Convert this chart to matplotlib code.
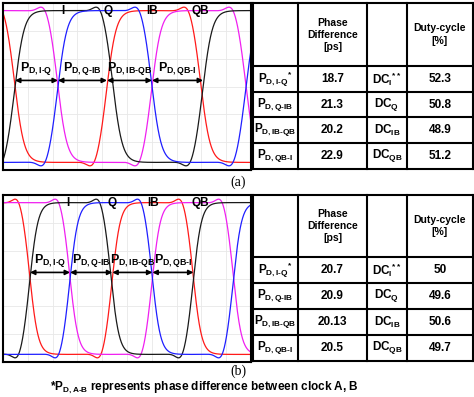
import numpy as np
import matplotlib
matplotlib.use("Agg")
import matplotlib.pyplot as plt

plt.rcParams['font.family'] = ['Liberation Sans', 'DejaVu Sans']
plt.rcParams['mathtext.fontset'] = 'custom'
plt.rcParams['mathtext.rm'] = 'Liberation Sans:bold'
plt.rcParams['mathtext.it'] = 'Liberation Sans:bold'
plt.rcParams['mathtext.bf'] = 'Liberation Sans:bold'

# edge times (ps) of each clock (first edge of I/Q rises, IB/QB falls)
t_end_a = 109.7
i_edges_a = [5.3, 48.7, 88.5]
q_edges_a = [24.3, 65.9, 107.5]
ib_edges_a = [5.3, 46.0, 87.6]
qb_edges_a = [24.3, 65.9, 107.5]

t_end_b = 125.0
i_edges_b = [13.6, 54.5, 96.0]
q_edges_b = [33.8, 75.3, 116.2]
ib_edges_b = [13.6, 55.1, 96.0]
qb_edges_b = [33.8, 75.3, 116.2]

clock_names = ['I', 'Q', 'IB', 'QB']
arrow_names = [r'$P_{D,I\text{-}Q}$', r'$P_{D,Q\text{-}IB}$', r'$P_{D,IB\text{-}QB}$', r'$P_{D,QB\text{-}I}$']

# tables
pd_labels = [r'$P_{D,I\text{-}Q}{}^{*}$', r'$P_{D,Q\text{-}IB}$', r'$P_{D,IB\text{-}QB}$', r'$P_{D,QB\text{-}I}$']
dc_labels = [r'$DC_{I}{}^{**}$', r'$DC_{Q}$', r'$DC_{IB}$', r'$DC_{QB}$']
phase_a = ['18.7', '21.3', '20.2', '22.9']
duty_a = ['52.3', '50.8', '48.9', '51.2']
phase_b = ['20.7', '20.9', '20.13', '20.5']
duty_b = ['50', '49.6', '50.6', '49.7']

colors = {'I': '#1a1a1a', 'Q': '#1f1fff', 'IB': '#ff1a1a', 'QB': '#f020f0'}
tau = 4.2
bump = 0.06
lead = 6.0
bw = 3.5


def wave(t, edges, start_high):
    v = np.full_like(t, 1.0 if start_high else 0.0)
    d = -1.0 if start_high else 1.0
    for e in edges:
        v += d * 0.5 * (1 + np.tanh((t - e) / tau))
        v -= d * bump * np.exp(-((t - e + lead) / bw) ** 2)
        d = -d
    return v


def draw_panel(ax, t_end, edges, label_x):
    i_e, q_e, ib_e, qb_e = edges
    t = np.linspace(0, t_end, 1500)
    ax.plot(t, wave(t, ib_e, True), color=colors['IB'], lw=0.9)
    ax.plot(t, wave(t, qb_e, True), color=colors['QB'], lw=0.9)
    ax.plot(t, wave(t, i_e, False), color=colors['I'], lw=0.9)
    ax.plot(t, wave(t, q_e, False), color=colors['Q'], lw=0.9)
    ax.set_xlim(0, t_end)
    ax.set_ylim(-0.05, 1.05)
    ax.set_xticks(np.linspace(0, t_end, 11))
    ax.set_yticks(np.linspace(-0.05, 1.05, 7))
    ax.tick_params(length=0, labelbottom=False, labelleft=False)
    ax.grid(color='#e8e8e8', lw=0.6)
    for s in ax.spines.values():
        s.set_linewidth(1.5)
    # arrows between successive edges
    marks = [(i_e[0], q_e[0]), (q_e[0], ib_e[1]), (ib_e[1], qb_e[1]), (qb_e[1], i_e[2])]
    for (a, b), name in zip(marks, arrow_names):
        ax.annotate('', xy=(b, 0.54), xytext=(a, 0.54),
                    arrowprops=dict(arrowstyle='<|-|>', color='black', lw=1.2,
                                    mutation_scale=7, shrinkA=0, shrinkB=0))
        ax.text((a + b) / 2, 0.62, name, ha='center', va='center', fontsize=9)
    for x, name in zip(label_x, clock_names):
        ax.text(x, 1.0, name, ha='center', va='center', fontsize=8.5, fontweight='bold')


fig = plt.figure(figsize=(4.74, 3.97), dpi=100)
ax_a = fig.add_axes([3 / 474, 1 - 170 / 397, 248 / 474, 167 / 397])
ax_b = fig.add_axes([3 / 474, 1 - 362 / 397, 248 / 474, 167 / 397])
draw_panel(ax_a, t_end_a, [i_edges_a, q_edges_a, ib_edges_a, qb_edges_a], [26.5, 46.5, 65.9, 87.2])
draw_panel(ax_b, t_end_b, [i_edges_b, q_edges_b, ib_edges_b, qb_edges_b], [32.8, 55.0, 75.8, 99.5])

# overlay in pixel units for tables and captions
ov = fig.add_axes([0, 0, 1, 1])
ov.set_xlim(0, 474)
ov.set_ylim(397, 0)
ov.axis('off')

col_x = [253, 298, 367, 407, 473]


def draw_table(rows, phase, duty):
    for y in rows:
        ov.plot([col_x[0], col_x[-1]], [y, y], color='black', lw=1.5, solid_capstyle='projecting')
    for x in col_x:
        ov.plot([x, x], [rows[0], rows[-1]], color='black', lw=1.5, solid_capstyle='projecting')
    hy = (rows[0] + rows[1]) / 2
    ov.text((col_x[1] + col_x[2]) / 2, hy, 'Phase\nDifference\n[ps]', ha='center', va='center',
            fontsize=7.5, fontweight='bold', linespacing=1.25)
    ov.text((col_x[3] + col_x[4]) / 2, hy, 'Duty-cycle\n[%]', ha='center', va='center',
            fontsize=7.5, fontweight='bold', linespacing=1.3)
    for k in range(4):
        y = (rows[k + 1] + rows[k + 2]) / 2
        ov.text((col_x[0] + col_x[1]) / 2, y, pd_labels[k], ha='center', va='center', fontsize=8.5)
        ov.text((col_x[1] + col_x[2]) / 2, y, phase[k], ha='center', va='center', fontsize=8.5, fontweight='bold')
        ov.text((col_x[2] + col_x[3]) / 2, y, dc_labels[k], ha='center', va='center', fontsize=8.5)
        ov.text((col_x[3] + col_x[4]) / 2, y, duty[k], ha='center', va='center', fontsize=8.5, fontweight='bold')


draw_table([3, 66, 92, 117, 143, 169], phase_a, duty_a)
draw_table([195, 257, 283, 309, 335, 361], phase_b, duty_b)

ov.text(238, 182, '(a)', ha='center', va='center', fontsize=10, family='Liberation Serif')
ov.text(238, 371, '(b)', ha='center', va='center', fontsize=10, family='Liberation Serif')
ov.text(204, 388, r'*$P_{D,A\text{-}B}$ represents phase difference between clock A, B', ha='center',
        va='center', fontsize=8.5, fontweight='bold')

fig.savefig('out.png', dpi=100)
